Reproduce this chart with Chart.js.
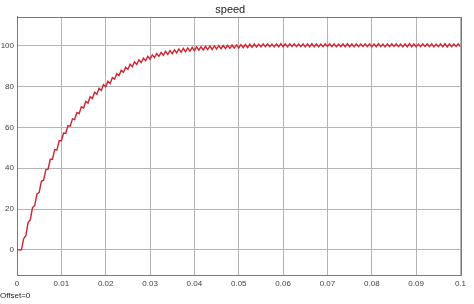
<!DOCTYPE html>
<html><head><meta charset="utf-8">
<script src="https://cdn.jsdelivr.net/npm/chart.js@4/dist/chart.umd.min.js"></script>
<style>html,body{margin:0;padding:0;background:#fff}#wrap{width:474px;height:304px}</style>
</head><body><div id="wrap"><canvas id="c" width="474" height="304"></canvas></div>
<script>
const chartTitle = 'speed';
const offsetLabel = 'Offset=0';

const time = [
0,0.0005,0.001,0.0015,0.002,0.0025,0.003,0.0035,0.004,0.0045,
0.005,0.0055,0.006,0.0065,0.007,0.0075,0.008,0.0085,0.009,0.0095,
0.01,0.0105,0.011,0.0115,0.012,0.0125,0.013,0.0135,0.014,0.0145,
0.015,0.0155,0.016,0.0165,0.017,0.0175,0.018,0.0185,0.019,0.0195,
0.02,0.0205,0.021,0.0215,0.022,0.0225,0.023,0.0235,0.024,0.0245,
0.025,0.0255,0.026,0.0265,0.027,0.0275,0.028,0.0285,0.029,0.0295,
0.03,0.0305,0.031,0.0315,0.032,0.0325,0.033,0.0335,0.034,0.0345,
0.035,0.0355,0.036,0.0365,0.037,0.0375,0.038,0.0385,0.039,0.0395,
0.04,0.0405,0.041,0.0415,0.042,0.0425,0.043,0.0435,0.044,0.0445,
0.045,0.0455,0.046,0.0465,0.047,0.0475,0.048,0.0485,0.049,0.0495,
0.05,0.0505,0.051,0.0515,0.052,0.0525,0.053,0.0535,0.054,0.0545,
0.055,0.0555,0.056,0.0565,0.057,0.0575,0.058,0.0585,0.059,0.0595,
0.06,0.0605,0.061,0.0615,0.062,0.0625,0.063,0.0635,0.064,0.0645,
0.065,0.0655,0.066,0.0665,0.067,0.0675,0.068,0.0685,0.069,0.0695,
0.07,0.0705,0.071,0.0715,0.072,0.0725,0.073,0.0735,0.074,0.0745,
0.075,0.0755,0.076,0.0765,0.077,0.0775,0.078,0.0785,0.079,0.0795,
0.08,0.0805,0.081,0.0815,0.082,0.0825,0.083,0.0835,0.084,0.0845,
0.085,0.0855,0.086,0.0865,0.087,0.0875,0.088,0.0885,0.089,0.0895,
0.09,0.0905,0.091,0.0915,0.092,0.0925,0.093,0.0935,0.094,0.0945,
0.095,0.0955,0.096,0.0965,0.097,0.0975,0.098,0.0985,0.099,0.0995,
0.1
];

const speed = [
0,0,0,5.5,7.1,13.4,14.8,20.7,21.8,27.4,
28.2,33.6,34.1,39.2,39.5,44.4,44.4,49.1,48.9,53.5,
53.3,57.2,57.1,60.9,60.6,64.2,63.8,67.3,66.7,70.1,
69.4,72.7,71.9,75.0,74.1,77.2,76.2,79.2,78.1,81.0,
79.9,82.6,81.5,84.4,83.6,86.3,85.4,88.0,87.0,89.5,
88.4,90.9,89.7,92.1,90.8,93.1,91.8,94.0,92.6,94.8,
93.4,95.5,94.2,96.2,94.8,96.7,95.3,97.2,95.7,97.6,
96.1,98.0,96.5,98.4,96.8,98.7,97.1,98.9,97.3,99.2,
97.6,99.4,97.8,99.5,97.9,99.7,98.1,99.8,98.2,99.9,
98.4,100.0,98.5,100.1,98.6,100.2,98.7,100.3,98.8,100.4,
98.9,100.5,99.0,100.6,99.1,100.7,99.2,100.8,99.3,100.8,
99.4,100.9,99.5,100.9,99.5,100.8,99.4,100.9,99.5,101.0,
99.5,100.9,99.4,100.9,99.6,100.9,99.5,100.8,99.5,100.9,
99.4,100.9,99.5,101.0,99.5,100.9,99.4,100.8,99.5,100.9,
99.6,100.9,99.5,100.9,99.4,100.8,99.5,100.9,99.5,101.0,
99.5,100.9,99.4,100.9,99.5,100.8,99.6,100.9,99.5,100.9,
99.4,100.9,99.5,101.0,99.5,100.8,99.4,100.9,99.5,100.9,
99.6,100.9,99.5,100.8,99.4,100.9,99.5,101.0,99.5,100.9,
99.4,100.8,99.5,100.9,99.6,100.9,99.5,100.9,99.4,100.8,
99.5,100.9,99.5,101.0,99.4,100.9,99.5,100.8,99.6,100.9,
99.5
];

const xTicks = [0,0.01,0.02,0.03,0.04,0.05,0.06,0.07,0.08,0.09,0.1];
const xTickLabels = ['0','0.01','0.02','0.03','0.04','0.05','0.06','0.07','0.08','0.09','0.1'];
const yTicks = [0,20,40,60,80,100];
const yTickLabels = ['0','20','40','60','80','100'];
const xRange = [0, 0.1];
const yRange = [-12.3, 114.2];

const FONT = 'Liberation Sans, Arial, sans-serif';

const frame = {
  id: 'frame',
  beforeDatasetsDraw(chart) {
    const a = chart.chartArea, ctx = chart.ctx;
    ctx.save();
    ctx.strokeStyle = '#7a7a7a';
    ctx.lineWidth = 1;
    ctx.strokeRect(Math.round(a.left) + 0.5, Math.round(a.top) + 0.5,
      Math.round(a.right) - Math.round(a.left), Math.round(a.bottom) - Math.round(a.top));
    ctx.restore();
  },
  afterDraw(chart) {
    const ctx = chart.ctx;
    ctx.save();
    ctx.font = '8px ' + FONT;
    ctx.fillStyle = '#222';
    ctx.textBaseline = 'middle';
    ctx.textAlign = 'left';
    ctx.fillText(offsetLabel, 0, 296);
    ctx.restore();
  }
};

new Chart(document.getElementById('c'), {
  type: 'line',
  data: {
    datasets: [{
      data: time.map((t, i) => ({x: t, y: speed[i]})),
      borderColor: '#d2232f',
      borderWidth: 1.4,
      pointRadius: 0,
      tension: 0,
      fill: false
    }]
  },
  options: {
    responsive: false,
    animation: false,
    devicePixelRatio: 1,
    layout: {padding: {left: 0, right: 13.5, top: 0, bottom: 0}},
    plugins: {
      legend: {display: false},
      tooltip: {enabled: false},
      title: {
        display: true, text: chartTitle, color: '#1a1a1a',
        font: {family: FONT, size: 11, weight: 'normal', lineHeight: 1.2},
        padding: {top: 3, bottom: 0.5}
      }
    },
    scales: {
      x: {
        type: 'linear', min: xRange[0], max: xRange[1],
        afterBuildTicks: s => { s.ticks = xTicks.map(v => ({value: v})); },
        afterFit: s => { s.height = 29; },
        ticks: {
          autoSkip: false, maxRotation: 0, padding: 4, color: '#404040',
          font: {family: FONT, size: 8},
          callback: (v, i) => xTickLabels[i]
        },
        grid: {color: '#b4b4b4', lineWidth: 1, drawTicks: false},
        border: {color: '#7a7a7a'}
      },
      y: {
        type: 'linear', min: yRange[0], max: yRange[1],
        afterBuildTicks: s => { s.ticks = yTicks.map(v => ({value: v})); },
        afterFit: s => { s.width = 17; },
        ticks: {
          autoSkip: false, padding: 3, color: '#404040',
          font: {family: FONT, size: 8},
          callback: (v, i) => yTickLabels[i]
        },
        grid: {color: '#b4b4b4', lineWidth: 1, drawTicks: false},
        border: {color: '#7a7a7a'}
      }
    }
  },
  plugins: [frame]
});
</script>
</body></html>
